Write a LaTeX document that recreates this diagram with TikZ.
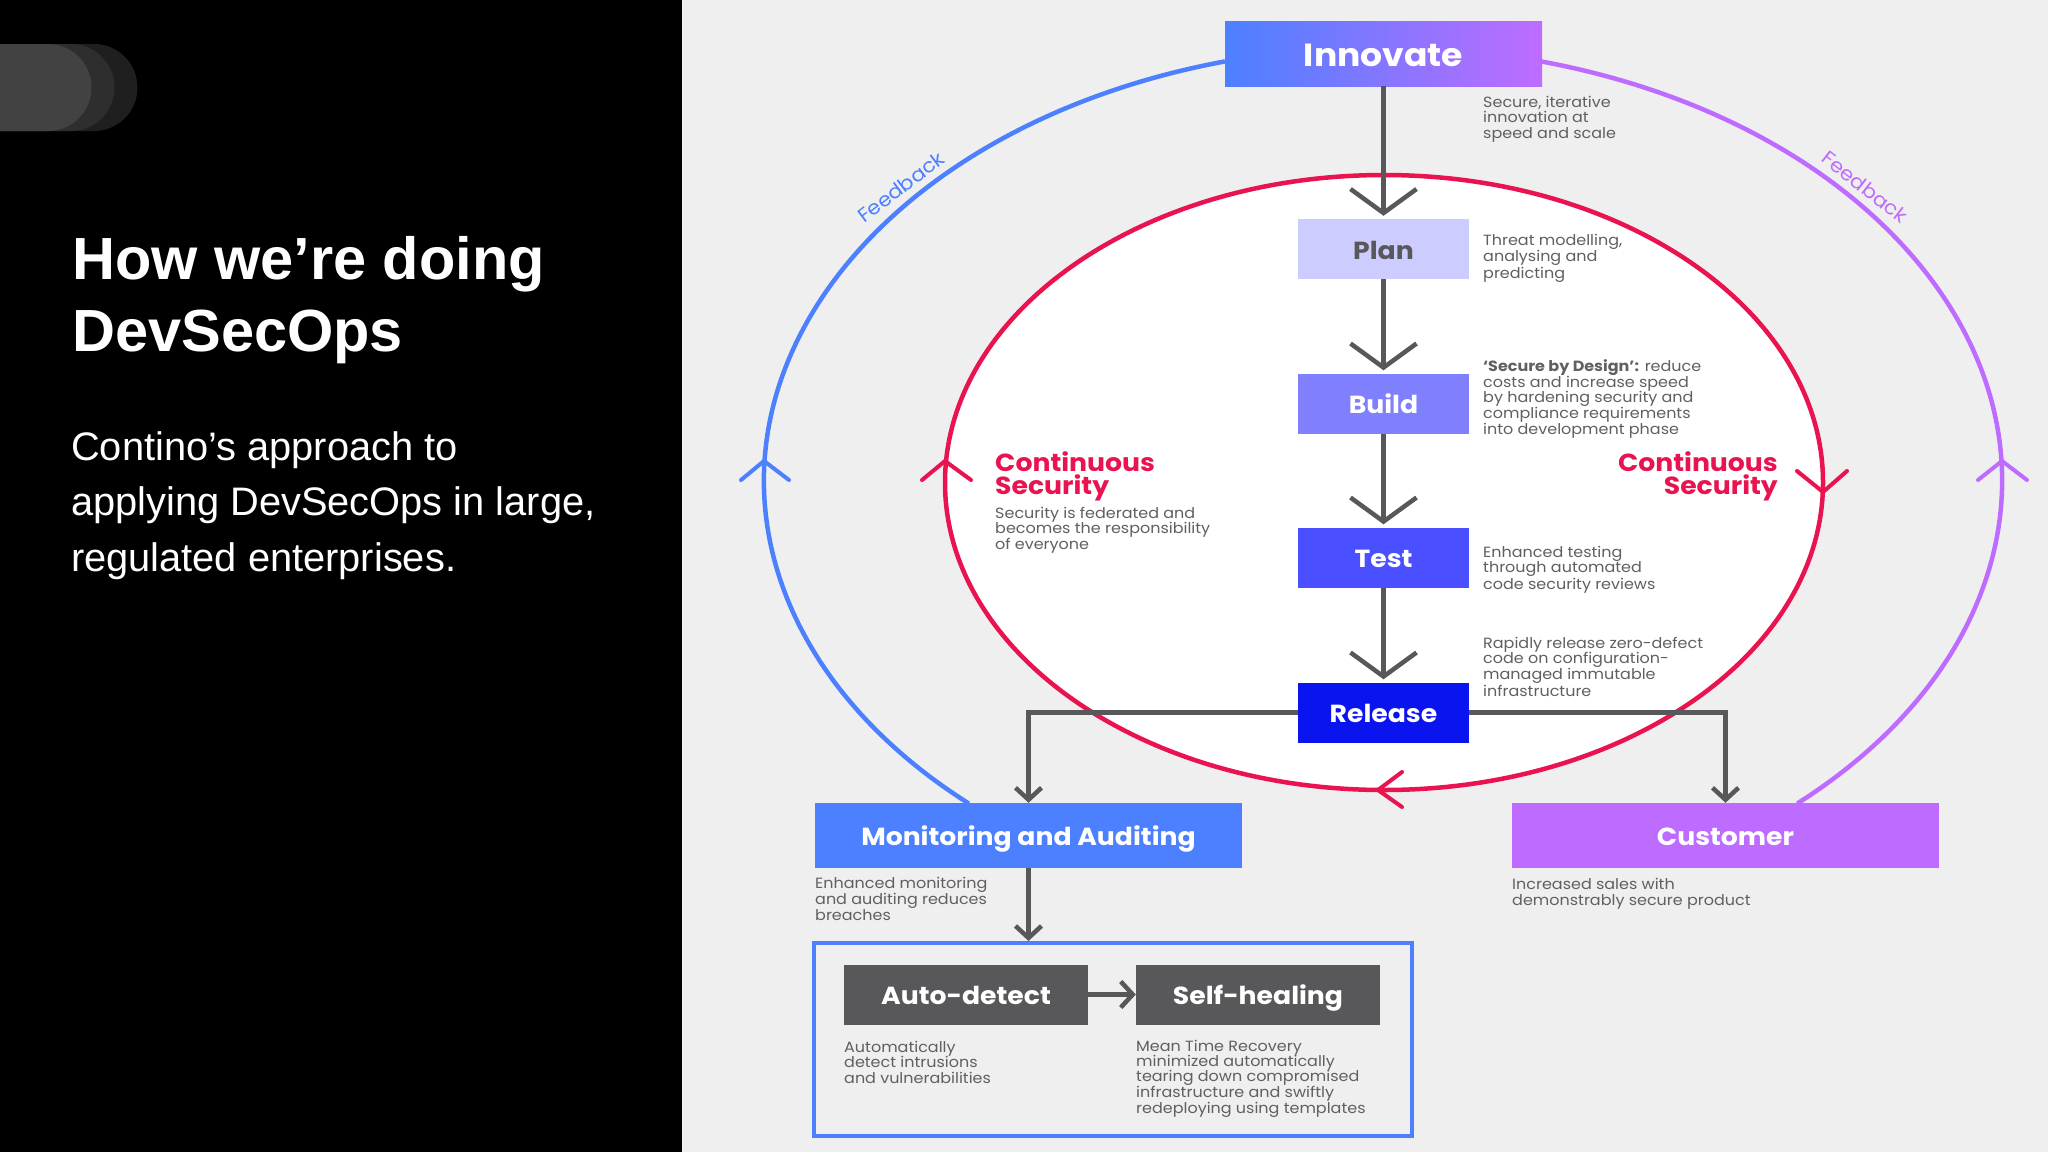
\documentclass[tikz,border=0pt]{standalone}
\usepackage{fontspec}
\setmainfont{Liberation Sans}
\newfontfamily\dia[FakeStretch=1.08]{Poppins}
\usetikzlibrary{arrows.meta,shapes.geometric}
\definecolor{bgc}{HTML}{EFEFF0}
\definecolor{bluec}{HTML}{4C80FF}
\definecolor{purc}{HTML}{BE6CFF}
\definecolor{redc}{HTML}{E8134F}
\definecolor{grayc}{HTML}{58585A}
\definecolor{descc}{HTML}{606062}
\definecolor{planc}{HTML}{CCCCFF}
\definecolor{buildc}{HTML}{8080FF}
\definecolor{testc}{HTML}{4A50FF}
\definecolor{relc}{HTML}{0A14EE}
\tikzset{
  boxn/.style={inner sep=0pt,minimum height=60pt,minimum width=171pt,text height=20pt,text depth=0pt,text=white,font=\dia\bfseries\fontsize{24.7}{28}\selectfont},
  flow/.style={draw=grayc,line width=4.5pt,-{Straight Barb[length=24pt,width=66pt,line width=4.5pt]},shorten >=3pt},
  flowsm/.style={draw=grayc,line width=4.5pt,-{Straight Barb[length=12pt,width=26pt,line width=4.5pt]}},
  desc/.style={inner sep=0pt,anchor=base west,align=left,text=descc,font=\dia\fontsize{14.8}{15.2}\selectfont},
  sec/.style={inner sep=0pt,text=redc,font=\dia\bfseries\fontsize{24.7}{23}\selectfont},
  fb/.style={inner sep=0pt,font=\dia\fontsize{19.5}{22}\selectfont},
  barb/.style={line width=4pt,line cap=round,line join=miter},
  title/.style={inner sep=0pt,anchor=base west,text=white,font=\bfseries\fontsize{59.5}{72}\selectfont},
  body/.style={inner sep=0pt,anchor=base west,text=white,font=\fontsize{39.8}{55}\selectfont}
}
\begin{document}
\begin{tikzpicture}[x=1pt,y=-1pt]
\useasboundingbox (0,0) rectangle (2048,1152);
\fill[bgc] (0,0) rectangle (2048,1152);
\fill[black] (0,0) rectangle (682,1152);
% pills
\fill[black!88!white] (0,44) -- (94,44) arc[start angle=-90,end angle=90,radius=43.5] -- (0,131) -- cycle;
\fill[black!82!white] (0,44) -- (71,44) arc[start angle=-90,end angle=90,radius=43.5] -- (0,131) -- cycle;
\fill[black!74!white] (0,44) -- (48,44) arc[start angle=-90,end angle=90,radius=43.5] -- (0,131) -- cycle;
% left text
\node[title] (t1) at (72,279) {How we’re doing};
\node[title] (t2) at (72,351) {DevSecOps};
\node[body] (b1) at (71,460) {Contino’s approach to};
\node[body] (b2) at (71,515.5) {applying DevSecOps in large,};
\node[body] (b3) at (71,571) {regulated enterprises.};
% loops
\draw[bluec,line width=4.5pt] (1383,481) ++(-104.8:619 and 434) arc[start angle=-104.8,end angle=-228,x radius=619,y radius=434];
\draw[purc,line width=4.5pt] (1383,481) ++(-75.2:619 and 434) arc[start angle=-75.2,end angle=48,x radius=619,y radius=434];
\node[ellipse,draw=redc,fill=white,line width=4.5pt,inner sep=0pt,minimum width=878pt,minimum height=615pt] (loop) at (1384,482.5) {};
% boxes
\node[boxn,minimum width=317pt,minimum height=65pt,left color=bluec,right color=purc,text height=26pt,font=\dia\bfseries\fontsize{32}{34}\selectfont] (innovate) at (1383.5,53.5) {Innovate};
\node[boxn,fill=planc,text=grayc] (plan) at (1383.5,249) {Plan};
\node[boxn,fill=buildc] (build) at (1383.5,403.5) {Build};
\node[boxn,fill=testc] (test) at (1383.5,557.5) {Test};
\node[boxn,fill=relc] (release) at (1383.5,712.5) {Release};
\node[boxn,fill=bluec,minimum width=427pt,minimum height=65pt] (mon) at (1028.5,835.5) {Monitoring and Auditing};
\node[boxn,fill=purc,minimum width=427pt,minimum height=65pt] (cust) at (1725.5,835.5) {Customer};
\node[draw=bluec,line width=4pt,inner sep=0pt,minimum width=598pt,minimum height=193pt] (frame) at (1113,1039.5) {};
\node[boxn,fill=grayc,minimum width=244pt] (auto) at (966,994.5) {Auto-detect};
\node[boxn,fill=grayc,minimum width=244pt] (self) at (1258,994.5) {Self-healing};
% connectors
\draw[flow] (innovate) -- (plan);
\draw[flow] (plan) -- (build);
\draw[flow] (build) -- (test);
\draw[flow] (test) -- (release);
\draw[flowsm] (release.west) -| (mon.north);
\draw[flowsm] (release.east) -| (cust.north);
\draw[flowsm] (mon.south) -- (mon.south |- frame.north);
\draw[flowsm] (auto) -- (self);
% loop heads
\draw[barb,redc] (922,480) -- (945,461) -- (971,480);
\draw[barb,redc] (1797,471) -- (1823,492) -- (1847,471);
\draw[barb,redc] (1402,772) -- (1378,790) -- (1402,807);
\draw[barb,bluec] (741,480) -- (764,461) -- (789,480);
\draw[barb,purc] (1978,480) -- (2002,461) -- (2027,480);
% labels
\node[fb,text=bluec,rotate=37] (fb1) at (901,187) {Feedback};
\node[fb,text=purc,rotate=-38] (fb2) at (1865,187) {Feedback};
\node[sec,anchor=base west,align=left] (s1) at (995,494) {Continuous\\Security};
\node[sec,anchor=base east,align=right] (s2) at (1778,494) {Continuous\\Security};
\node[desc] (d0) at (995,549) {Security is federated and\\becomes the responsibility\\of everyone};
\node[desc] (d1) at (1483,138) {Secure, iterative\\innovation at\\speed and scale};
\node[desc] (d2) at (1483,278) {Threat modelling,\\analysing and\\predicting};
\node[desc] (d3) at (1483,434) {{\bfseries ‘Secure by Design’:} reduce\\costs and increase speed\\by hardening security and\\compliance requirements\\into development phase};
\node[desc] (d4) at (1483,589) {Enhanced testing\\through automated\\code security reviews};
\node[desc] (d5) at (1483,696) {Rapidly release zero-defect\\code on configuration-\\managed immutable\\infrastructure};
\node[desc] (d6) at (815,920) {Enhanced monitoring\\and auditing reduces\\breaches};
\node[desc] (d7) at (1512,905) {Increased sales with\\demonstrably secure product};
\node[desc] (d8) at (844,1083) {Automatically\\detect intrusions\\and vulnerabilities};
\node[desc] (d9) at (1136,1113) {Mean Time Recovery\\minimized automatically\\tearing down compromised\\infrastructure and swiftly\\redeploying using templates};
\end{tikzpicture}
\end{document}
